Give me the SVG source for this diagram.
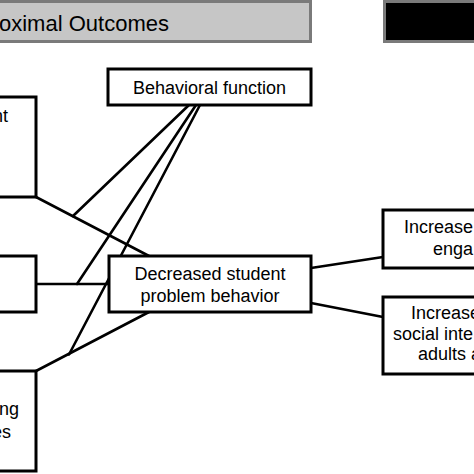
<svg xmlns="http://www.w3.org/2000/svg" width="474" height="474" viewBox="0 0 474 474">
<style>
.box{fill:#fff;stroke:#000;stroke-width:3}
.t{font-family:"Liberation Sans",Arial,sans-serif;font-size:18px;fill:#000}
.c{text-anchor:middle}
.e{text-anchor:end}
.ln{stroke:#000;stroke-width:2.6;fill:none;stroke-linecap:round}
</style>
<rect width="474" height="474" fill="#fff"/>
<g id="header">
<rect x="-10" y="1.5" width="320.5" height="40" fill="#c6c6c6" stroke="#7a7a7a" stroke-width="3"/>
<text class="t" x="-1" y="31" style="font-size:22px">oximal Outcomes</text>
</g>
<g id="header-dark">
<rect x="384.5" y="1.5" width="100" height="40" fill="#000" stroke="#7a7a7a" stroke-width="3"/>
</g>
<g id="connectors">
<line class="ln" x1="36" y1="197" x2="149" y2="256"/>
<line class="ln" x1="36" y1="284" x2="109" y2="284"/>
<line class="ln" x1="36" y1="371" x2="149" y2="312"/>
<line class="ln" x1="189" y1="105" x2="73" y2="216"/>
<line class="ln" x1="196" y1="105" x2="77" y2="284"/>
<line class="ln" x1="200" y1="105" x2="69" y2="354.5"/>
<line class="ln" x1="311" y1="268" x2="383" y2="257"/>
<line class="ln" x1="311" y1="303" x2="383" y2="317"/>
</g>
<g id="left1">
<rect class="box" x="-10" y="97" width="46" height="100"/>
<text class="t e" x="8" y="122">nt</text>
</g>
<g id="left2">
<rect class="box" x="-10" y="256" width="46" height="56"/>
</g>
<g id="left3">
<rect class="box" x="-10" y="371" width="46" height="100"/>
<text class="t e" x="19" y="415">ng</text>
<text class="t e" x="11" y="438">es</text>
</g>
<g id="behavioral-function">
<rect class="box" x="108" y="69" width="203" height="36"/>
<text class="t c" x="209.5" y="94">Behavioral function</text>
</g>
<g id="decreased-problem-behavior">
<rect class="box" x="109" y="256" width="202" height="56"/>
<text class="t c" x="210" y="280">Decreased student</text>
<text class="t c" x="210" y="302">problem behavior</text>
</g>
<g id="right1">
<rect class="box" x="383" y="210" width="100" height="58"/>
<text class="t" x="404" y="233">Increase</text>
<text class="t" x="433" y="255">enga</text>
</g>
<g id="right2">
<rect class="box" x="383" y="297" width="100" height="77"/>
<text class="t" x="411" y="319">Increase</text>
<text class="t" x="393" y="340">social inte</text>
<text class="t" x="418" y="360">adults a</text>
</g>
</svg>
